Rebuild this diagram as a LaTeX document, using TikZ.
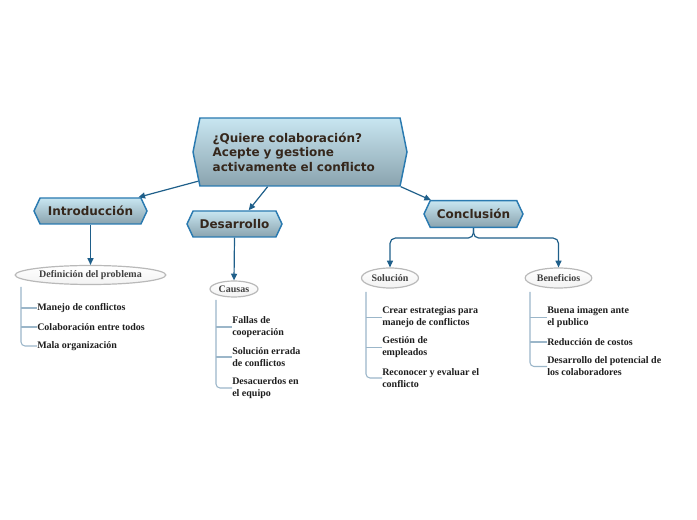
\documentclass[tikz,border=0pt]{standalone}
\usepackage{fontspec}
\setmainfont{Liberation Serif}
\newfontfamily\headfont{DejaVu Sans}
\usetikzlibrary{positioning,arrows.meta,shapes.symbols,shapes.geometric}
\definecolor{hdborder}{HTML}{2A7AB0}
\definecolor{hdtop}{HTML}{C8E6F1}
\definecolor{hdbot}{HTML}{8AA3AE}
\definecolor{hdtext}{HTML}{35271C}
\definecolor{linkblue}{HTML}{1F5F8A}
\definecolor{brk}{HTML}{9BB6C9}
\definecolor{itemtext}{HTML}{1E1E1E}
\begin{document}
\begin{tikzpicture}[x=0.75pt,y=-0.75pt,
  head/.style={signal, signal to=west and east, draw=hdborder, line width=1.1pt,
    top color=hdtop, bottom color=hdbot, text=hdtext, inner sep=0pt,
    font=\headfont\bfseries\fontsize{9pt}{11pt}\selectfont},
  topic/.style={ellipse, draw=gray!55, line width=0.9pt, top color=white, bottom color=gray!10,
    inner sep=0pt, text=black!75, font=\fontsize{7.5pt}{9pt}\selectfont\bfseries},
  item/.style={anchor=west, inner sep=0pt, align=left, text=itemtext,
    font=\fontsize{7.5pt}{9pt}\selectfont\bfseries},
  link/.style={draw=linkblue, line width=0.9pt, -{Triangle[length=5pt,width=4.5pt]}},
  bracket/.style={draw=brk, line width=0.8pt, rounded corners=3pt}]
\useasboundingbox (0,0) rectangle (697,520);

% main topic
\node[head, signal pointer angle=157, minimum width=160.5pt, minimum height=51pt,
  text width=131pt, align=left] (main) at (300,152)
  {¿Quiere colaboración?\\Acepte y gestione\\activamente el conflicto};

% main branches
\node[head, signal pointer angle=130, minimum width=84.75pt, minimum height=19.5pt] (intro) at (90.5,211) {Introducción};
\node[head, signal pointer angle=130, minimum width=71.25pt, minimum height=19.5pt] (des) at (234.5,224) {Desarrollo};
\node[head, signal pointer angle=130, minimum width=74.25pt, minimum height=20pt] (conc) at (473.5,214) {Conclusión};

\draw[link] (main.196) -- (intro.16);
\draw[link] (main.227) -- (des.44);
\draw[link] (main.-19) -- (conc.162);

% subtopics
\node[topic, minimum width=113pt, minimum height=14.25pt] (defp) at (90.5,275) {Definición del problema};
\node[topic, minimum width=36pt, minimum height=12pt] (causas) at (234,289) {Causas};
\node[topic, minimum width=42.75pt, minimum height=15pt] (sol) at (390,278) {Solución};
\node[topic, minimum width=50pt, minimum height=15pt] (ben) at (558.5,278) {Beneficios};

\draw[link] (intro.south) -- (defp.north);
\draw[link] (des.south) -- (causas.north);
\draw[link, rounded corners=4pt] (conc.south) -- ++(0,10) -| (sol.north);
\draw[link, rounded corners=4pt] (conc.south) -- ++(0,10) -| (ben.north);

% Introduccion
\node[item] (i1) at (37,308) {Manejo de conflictos};
\node[item] (i2) at (37,327) {Colaboración entre todos};
\node[item] (i3) at (37,346) {Mala organización};
\coordinate (bi) at (21,287);
\draw[bracket] (bi) |- (i3.west);
\draw[bracket] (bi |- i1.west) -- (i1.west);
\draw[bracket] (bi |- i2.west) -- (i2.west);

% Desarrollo
\node[item] (c1) at (232,327) {Fallas de\\cooperación};
\node[item] (c2) at (232,357) {Solución errada\\de conflictos};
\node[item] (c3) at (232,388) {Desacuerdos en\\el equipo};
\coordinate (bc) at (216,300);
\draw[bracket] (bc) |- (c3.west);
\draw[bracket] (bc |- c1.west) -- (c1.west);
\draw[bracket] (bc |- c2.west) -- (c2.west);

% Solucion
\node[item] (s1) at (382,317.5) {Crear estrategias para\\manejo de conflictos};
\node[item] (s2) at (382,347.5) {Gestión de\\empleados};
\node[item] (s3) at (382,378) {Reconocer y evaluar el\\conflicto};
\coordinate (bs) at (366,292);
\draw[bracket] (bs) |- (s3.west);
\draw[bracket] (bs |- s1.west) -- (s1.west);
\draw[bracket] (bs |- s2.west) -- (s2.west);

% Beneficios
\node[item] (b1) at (547,317.5) {Buena imagen ante\\el publico};
\node[item] (b2) at (547,342) {Reducción de costos};
\node[item] (b3) at (547,366.5) {Desarrollo del potencial de\\los colaboradores};
\coordinate (bb) at (530,292);
\draw[bracket] (bb) |- (b3.west);
\draw[bracket] (bb |- b1.west) -- (b1.west);
\draw[bracket] (bb |- b2.west) -- (b2.west);
\end{tikzpicture}
\end{document}
